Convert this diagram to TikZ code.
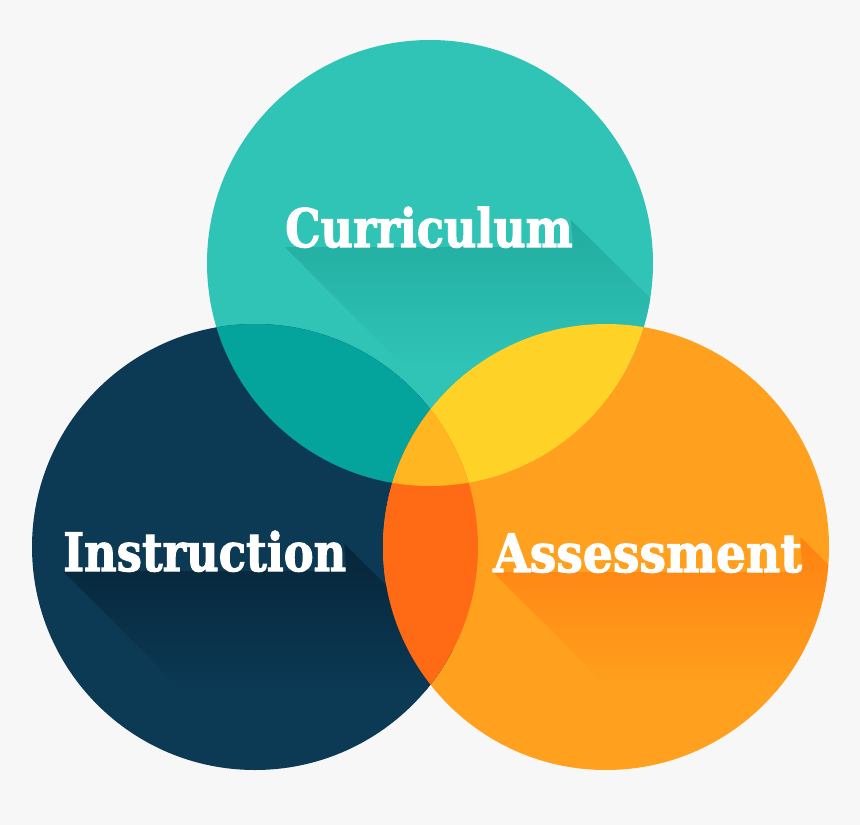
\documentclass[tikz,border=0pt]{standalone}
\usepackage{fontspec}
\newfontfamily\slabfont[BoldFeatures={FakeBold=2.2}]{DejaVu Serif}
\usetikzlibrary{calc}
\definecolor{bg}{RGB}{247,247,247}
\definecolor{c1}{RGB}{47,196,182}
\definecolor{c2}{RGB}{12,57,84}
\definecolor{c3}{RGB}{255,161,30}
\definecolor{c12}{RGB}{4,164,156}
\definecolor{c13}{RGB}{255,210,40}
\definecolor{c23}{RGB}{255,106,20}
\definecolor{c123}{RGB}{255,182,32}
\definecolor{s1}{RGB}{34,172,160}
\definecolor{s2}{RGB}{6,38,58}
\definecolor{s3}{RGB}{255,130,18}

\def\topc{(430,263) circle (223)}
\def\leftc{(255,547) circle (223)}
\def\rightc{(606,547) circle (223)}

\begin{document}
\begin{tikzpicture} [
    x=1pt, y=-1pt,
    lbl/.style={
        font=\slabfont\bfseries\fontsize{53}{53}\selectfont,
        text=white, inner sep=0pt,
        anchor=base west
    }
]

\pgfdeclarelayer{background}
\pgfsetlayers{background,main}

\useasboundingbox (0,0) rectangle (860,825);

\node [lbl] (curr)   at (285,247) {\scalebox{0.84}[1]{Curriculum}};
\node [lbl] (instr)  at (63,571)  {\scalebox{0.845}[1]{Instruction}};
\node [lbl] (assess) at (493,572) {\scalebox{0.89}[1]{Assessment}};

\begin{pgfonlayer}{background}

\fill [bg] (0,0) rectangle (860,825);

\fill [c1] \topc;
\fill [c2] \leftc;
\fill [c3] \rightc;

% long shadows
\begin{scope}
    \clip \topc;
    \shade [top color=s1, bottom color=c1]
        (curr.base west) -- ++(120,120) -- ($(curr.base east)+(120,120)$)
        -- ($(curr.base east)+(120,93)$) -- ($(curr.base east)+(-2,-27)$)
        -- (curr.base east) -- cycle;
\end{scope}
\begin{scope}
    \clip \leftc;
    \shade [top color=s2, bottom color=c2]
        (instr.base west) -- ++(120,120) -- ($(instr.base east)+(120,120)$)
        -- ($(instr.base east)+(120,93)$) -- ($(instr.base east)+(-2,-27)$)
        -- (instr.base east) -- cycle;
\end{scope}
\begin{scope}
    \clip \rightc;
    \shade [top color=s3, bottom color=c3]
        (assess.base west) -- ++(120,120) -- ($(assess.base east)+(120,120)$)
        -- ($(assess.base east)+(120,85)$) -- ($(assess.base east)+(-2,-35)$)
        -- (assess.base east) -- cycle;
\end{scope}

% overlaps
\begin{scope}
    \clip \topc;
    \fill [c12] \leftc;
    \fill [c13] \rightc;
\end{scope}
\begin{scope}
    \clip \leftc;
    \fill [c23] \rightc;
    \clip \rightc;
    \fill [c123] \topc;
\end{scope}

\end{pgfonlayer}

\end{tikzpicture}
\end{document}
